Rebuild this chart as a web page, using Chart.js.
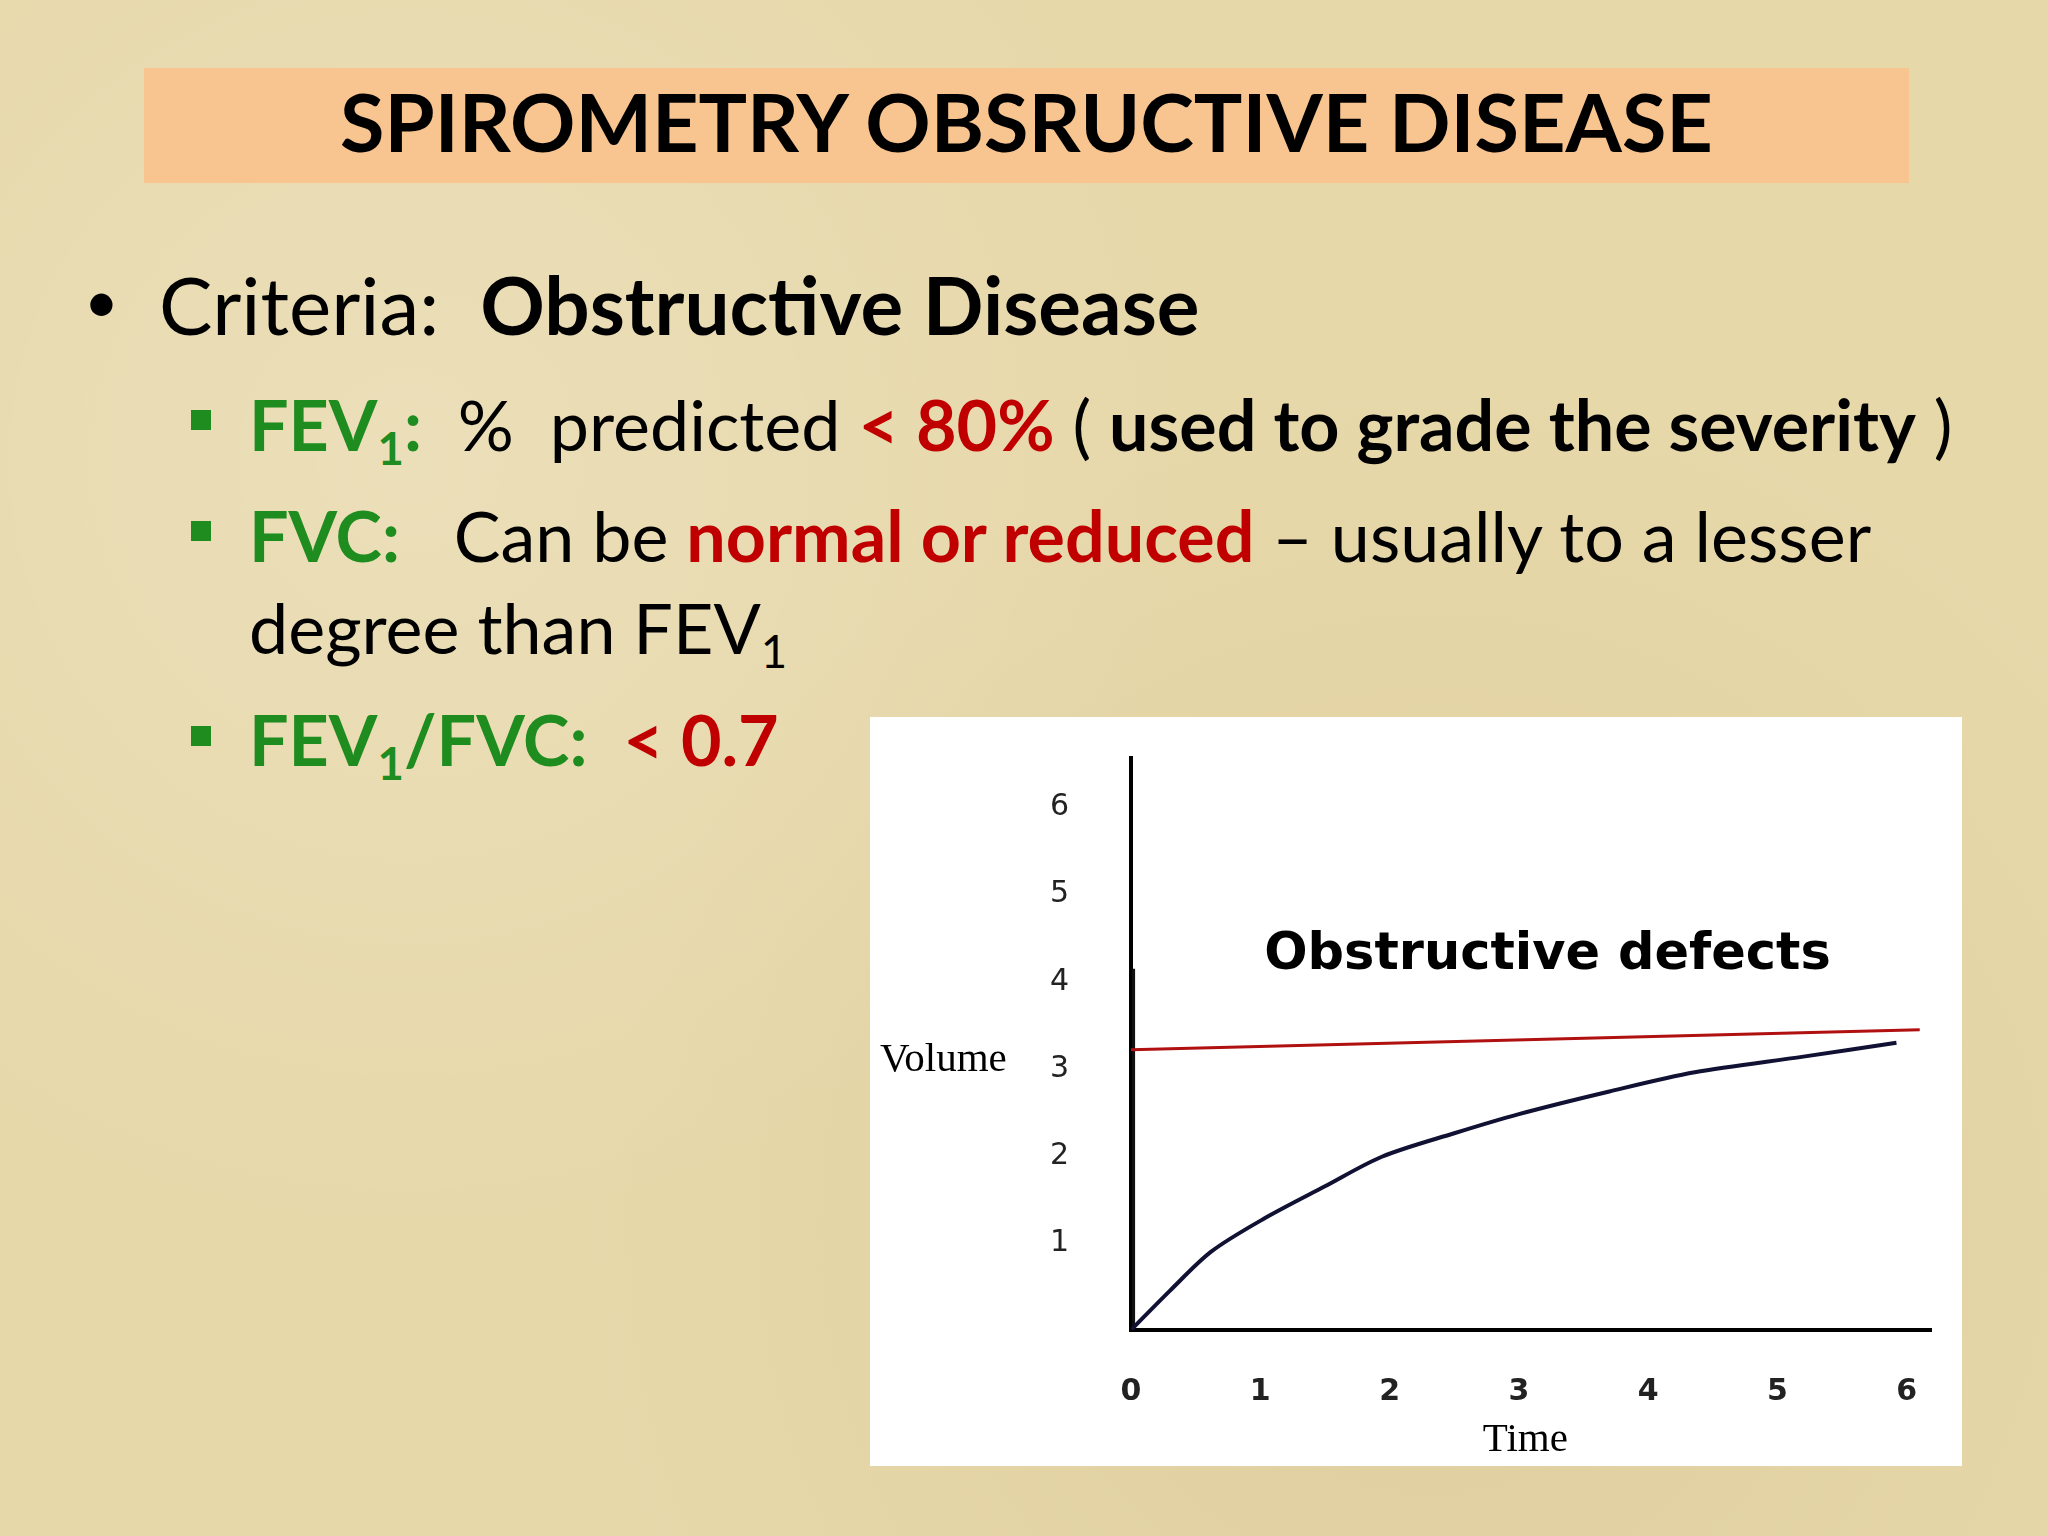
<!DOCTYPE html>
<html><head><meta charset="utf-8">
<script src="https://cdn.jsdelivr.net/npm/chart.js@4.4.0/dist/chart.umd.min.js"></script>
<style>
html,body{margin:0;padding:0;}
body{width:2048px;height:1536px;position:relative;overflow:hidden;background:#e7d8aa;
background-image:radial-gradient(circle at 20% 30%,rgba(255,255,255,0.18),transparent 40%),radial-gradient(circle at 70% 80%,rgba(150,120,60,0.10),transparent 45%);
font-family:Lato,"Open Sans",sans-serif;color:#000;}
.t{position:absolute;white-space:nowrap;line-height:1;}
.g{color:#1e8c1e;font-weight:bold;}
.r{color:#c00000;font-weight:bold;}
sub{font-size:0.65em;vertical-align:-0.3em;line-height:0;}
.sq{position:absolute;width:20px;height:20px;background:#1e8c1e;}
#box{position:absolute;left:870px;top:717px;width:1092px;height:749px;background:#fff;}
#c{position:absolute;left:870px;top:678px;}
</style></head><body>
<div style="position:absolute;left:144px;top:68px;width:1765px;height:115px;background:#f8c48f;"></div>
<div class="t" style="left:144px;width:1765px;text-align:center;top:80px;font-size:81px;font-weight:bold;">SPIROMETRY OBSRUCTIVE DISEASE</div>
<div class="t" style="left:84px;top:270px;font-size:60px;">•</div>
<div class="t" style="left:159px;top:264px;font-size:80px;">Criteria:&nbsp; <b>Obstructive Disease</b></div>
<div class="sq" style="left:191px;top:410px;"></div>
<div class="t" style="left:249px;top:389px;font-size:70px;"><span class="g">FEV<sub>1</sub>:</span>&nbsp; %&nbsp; predicted <span class="r">&lt; 80%</span> ( <b>used to grade the severity</b> )</div>
<div class="sq" style="left:191px;top:521px;"></div>
<div class="t" style="left:249px;top:500px;font-size:70px;"><span class="g">FVC:</span>&nbsp;&nbsp; Can be <span class="r">normal or reduced</span> – usually to a lesser</div>
<div class="t" style="left:249px;top:592px;font-size:70px;">degree than FEV<sub>1</sub></div>
<div class="sq" style="left:191px;top:726px;"></div>
<div class="t" style="left:249px;top:704px;font-size:70px;"><span class="g">FEV<sub>1</sub>/FVC:</span>&nbsp; <span class="r">&lt; 0.7</span></div>
<div id="box"></div>
<canvas id="c" width="1092" height="788"></canvas>
<script>
const fvcTime=[0,6.1];
const fvcVolume=[3.22,3.45];
const fevTime=[0,0.3,0.62,1.03,1.5,1.94,2.5,3.0,3.7,4.36,5.2,5.92];
const fevVolume=[0,0.45,0.9,1.28,1.65,1.99,2.26,2.48,2.74,2.96,3.14,3.3];
const spikeTime=[0.02,0.02];
const spikeVolume=[0,4.15];
const xTicks=[0,1,2,3,4,5,6];
const yTicks=[1,2,3,4,5,6];
const pts=(xs,ys)=>xs.map((x,i)=>({x:x,y:ys[i]}));
const textPlugin={id:'txt',afterDraw(ch){const c=ch.ctx,xs=ch.scales.x,ys=ch.scales.y;c.save();
c.fillStyle='#000';c.font='bold 51px "DejaVu Sans",sans-serif';c.textBaseline='middle';c.textAlign='left';
c.fillText('Obstructive defects',xs.getPixelForValue(1.03),ys.getPixelForValue(4.3));
c.font='41px "Liberation Serif",serif';c.fillText('Volume',10,ys.getPixelForValue(3.1));
c.textAlign='center';c.fillText('Time',xs.getPixelForValue(3.05),ch.height-26);
c.restore();}};
new Chart(document.getElementById('c'),{type:'scatter',
data:{datasets:[
{data:pts(fvcTime,fvcVolume),showLine:true,borderColor:'#b01010',borderWidth:3,pointRadius:0},
{data:pts(fevTime,fevVolume),showLine:true,borderColor:'#111133',borderWidth:4,pointRadius:0,tension:0.3},
{data:pts(spikeTime,spikeVolume),showLine:true,borderColor:'#111',borderWidth:3,pointRadius:0}]},
options:{responsive:false,animation:false,layout:{padding:{top:0,right:25,left:0,bottom:0}},
plugins:{legend:{display:false},tooltip:{enabled:false}},
scales:{
x:{type:'linear',min:0,max:6.19,afterBuildTicks(s){s.ticks=xTicks.map(v=>({value:v}));},
afterFit(s){s.height=136;},grid:{display:false,drawTicks:false},border:{color:'#000',width:4},
ticks:{padding:44,color:'#222',font:{size:30,weight:'bold',family:'"DejaVu Sans"'}}},
y:{min:0,max:6.57,afterBuildTicks(s){s.ticks=yTicks.map(v=>({value:v}));},
afterFit(s){s.width=261;},grid:{display:false,drawTicks:false},border:{color:'#000',width:4},
ticks:{padding:62,color:'#222',font:{size:30,family:'"DejaVu Sans"'}}}}},
plugins:[textPlugin]});
</script>
</body></html>
